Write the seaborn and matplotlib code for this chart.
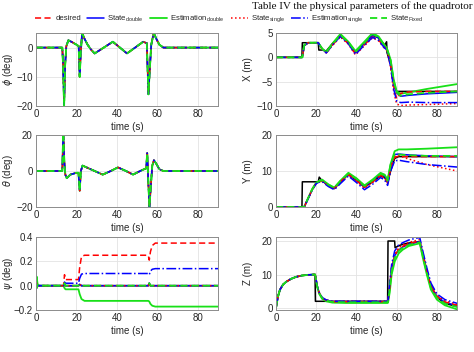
import matplotlib
matplotlib.use("Agg")
import matplotlib.pyplot as plt
import seaborn as sns
from matplotlib.lines import Line2D

# ---------------- data ----------------
T_PHI = [0, 13, 13.4, 13.9, 14.4, 15, 16, 17.5, 20, 21.1, 21.6, 22.1, 22.8, 24, 25.5, 27, 29,
         33.5, 38, 41.5, 45, 49, 53, 54.8, 55.6, 56.3, 57, 58.2, 59.5, 61, 63, 90]
PHI = [0, 0, -6, -20, -6, 0.5, 2.5, 2, 1, 0.5, -10, -2, 5, 3, 1, -0.5, -2,
       0, 2, 0, -2, 0, 2, 1.5, -16, -7, 1, 5, 3, 1, 0, 0]

T_THETA = [0, 13, 13.5, 14, 14.5, 15.2, 17, 20, 21, 21.6, 22.2, 23, 26, 29, 33, 37, 40.5,
           44.5, 48, 51.5, 54.5, 55, 55.5, 56.1, 56.8, 57.5, 58.3, 59.5, 61, 63, 90]
THETA = [0, 0, 22, 5, -2, -4, -2, -1, -1, -11, 0, 3, 1.5, 0, -2, 0, 2,
         0, -2, 0, 1.5, 10, -5, -20, -8, 3, 6, 4, 1, 0, 0]

T_PSI = [0, 0.3, 0.8, 1.5, 13.6, 14.1, 14.6, 15.2, 21.0, 21.6, 22.5, 24, 55.5, 56.0, 56.6, 57.5, 59, 90]
PSI_DESIRED = [0, 0.02, 0, 0, 0, 0.09, 0.05, 0.05, 0.05, 0.15, 0.24, 0.25, 0.25, 0.21, 0.28, 0.33, 0.35, 0.35]
PSI_EST_SINGLE = [0, 0.01, 0, 0, 0, 0.03, 0.02, 0.02, 0.02, 0.06, 0.095, 0.1, 0.1, 0.09, 0.12, 0.135, 0.14, 0.14]
PSI_EST_DOUBLE = [0, 0.075, 0.01, 0, 0, -0.02, -0.03, -0.03, -0.03, -0.07, -0.11, -0.125, -0.125, -0.13,
                  -0.15, -0.165, -0.172, -0.172]
PSI_STATE = [0, -0.02, 0.01, 0, 0, 0.02, 0, 0, 0, 0.01, 0, 0, 0, 0.02, 0, 0, 0, 0]

T_X = [0, 12.9, 13.1, 14, 16, 18, 21, 21.3, 23, 25, 28, 32, 36, 39.5, 43, 48, 51, 54, 55, 55.2,
       57, 58.5, 60, 62, 66, 75, 90]
X_REF = [0, 0, 3, 3, 3, 3, 3, 1.5, 1.5, 1.3, 2.8, 4.5, 3.0, 1.0, 2.5, 4.5, 4.0, 2.5, 3.2, 1.0,
         -1.5, -5.5, -7.0, -7.0, -7.0, -7.0, -7.0]
X_EST_DOUBLE = [0, 0, 0, 2.5, 3, 3, 3, 2.8, 1.8, 1.1, 2.8, 4.8, 3.2, 1.3, 2.8, 5.0, 4.3, 2.5, 2.0, 1.8,
                -0.5, -4.5, -7.0, -7.5, -7.2, -6.5, -5.5]
X_STATE_DOUBLE = [0, 0, 0, 2.4, 3, 3, 3, 2.8, 1.7, 1.0, 2.6, 4.5, 3.0, 1.0, 2.5, 4.6, 4.0, 2.3, 1.9, 1.6,
                  -0.8, -5.0, -7.3, -8.0, -7.8, -7.5, -7.2]
X_DESIRED = [0, 0, 0, 2.4, 3, 3, 3, 2.8, 1.6, 0.9, 2.5, 4.3, 2.8, 0.7, 2.2, 4.2, 3.6, 2.0, 1.7, 1.5,
             -1.5, -6.0, -8.5, -7.4, -7.1, -7.0, -7.0]
X_STATE_SINGLE = [0, 0, 0, 2.4, 3, 3, 3, 2.8, 1.6, 0.9, 2.4, 4.2, 2.7, 0.5, 2.0, 4.0, 3.4, 1.8, 1.5, 1.3,
                  -2.0, -7.0, -9.6, -9.9, -9.8, -9.7, -9.5]
X_EST_SINGLE = [0, 0, 0, 2.4, 3, 3, 3, 2.8, 1.6, 0.9, 2.5, 4.3, 2.8, 0.6, 2.1, 4.1, 3.5, 1.9, 1.6, 1.4,
                -1.8, -6.5, -9.0, -9.3, -9.2, -9.3, -9.3]
X_STATE_FIXED = [0, 0, 0, 2.5, 3, 3, 3, 2.8, 1.7, 1.0, 2.7, 4.6, 3.1, 1.1, 2.6, 4.8, 4.1, 2.4, 2.0, 1.7,
                 -0.7, -4.8, -7.2, -7.9, -7.6, -7.3, -7.0]

T_Y = [0, 12.9, 13.1, 14, 16, 18, 20, 21, 21.5, 23, 26, 29, 32, 36, 40, 44, 48, 52, 54, 55.5,
       57, 59, 61, 65, 75, 90]
Y_REF = [0, 0, 7, 7, 7, 7, 7, 7, 8.3, 7.2, 6.0, 5.1, 7.0, 9.0, 7.4, 5.5, 7.0, 8.7, 8.2, 6.8,
         10.0, 13.5, 14.0, 14.0, 14.0, 14.0]
Y_EST_DOUBLE = [0, 0, 0, 0, 2.5, 5.0, 6.8, 7.0, 7.3, 7.6, 6.3, 5.4, 7.3, 9.5, 8.0, 6.0, 7.6, 9.5, 9.0, 7.6,
                12.0, 15.5, 16.0, 16.0, 16.2, 16.6]
Y_STATE_DOUBLE = [0, 0, 0, 0, 2.4, 4.8, 6.6, 6.9, 7.1, 7.3, 6.1, 5.2, 7.1, 9.2, 7.7, 5.7, 7.3, 9.1, 8.6, 7.1,
                  11.5, 14.6, 14.7, 14.5, 14.2, 14.0]
Y_DESIRED = [0, 0, 0, 0, 2.4, 4.8, 6.6, 6.9, 7.0, 7.2, 6.0, 5.1, 7.0, 9.0, 7.4, 5.5, 7.0, 8.8, 8.2, 6.8,
             10.5, 13.8, 14.1, 14.0, 14.0, 14.0]
Y_STATE_SINGLE = [0, 0, 0, 0, 2.4, 4.8, 6.6, 6.9, 7.0, 7.1, 5.9, 5.0, 6.8, 8.8, 7.2, 5.2, 6.8, 8.5, 8.0, 6.5,
                  11.0, 14.0, 14.3, 13.5, 11.8, 10.0]
Y_EST_SINGLE = [0, 0, 0, 0, 2.3, 4.7, 6.5, 6.8, 6.9, 7.0, 5.7, 4.8, 6.5, 8.6, 6.8, 4.8, 6.3, 8.2, 7.5, 6.0,
                10.0, 12.8, 13.0, 12.6, 11.8, 11.1]
Y_STATE_FIXED = [0, 0, 0, 0, 2.5, 4.9, 6.7, 7.0, 7.2, 7.4, 6.2, 5.3, 7.2, 9.3, 7.8, 5.8, 7.4, 9.2, 8.8, 7.3,
                 11.8, 14.8, 14.6, 14.4, 14.2, 14.2]

T_Z = [0, 1, 2, 3.5, 5, 7.5, 10, 13, 16, 19.4, 19.6, 20.5, 21.5, 23, 25, 28, 35, 45, 55.5, 55.7,
       56.5, 57.5, 59, 59.2, 61, 63, 66, 70, 71.5, 73, 75, 77, 80, 84, 90]
Z_REF = [0, 3.5, 5.5, 7, 7.8, 8.7, 9.3, 9.7, 9.9, 10, 2, 2, 2, 2, 2, 2, 2, 2, 2, 20,
         20, 20, 20, 18, 18.6, 19, 19.4, 19.7, 19.8, 16, 11, 6.5, 3.2, 1.4, 0.4]
Z_STATE_DOUBLE = [0, 3.5, 5.5, 7, 7.8, 8.7, 9.3, 9.7, 9.9, 10, 9.6, 6.5, 4.5, 3.0, 2.3, 1.9, 1.9, 1.9, 1.9, 2.0,
                  6, 12, 15.5, 15.8, 17.3, 18.2, 19, 19.6, 19.8, 16, 11, 6.5, 3.4, 1.7, 0.7]
Z_EST_SINGLE = [0, 3.5, 5.5, 7, 7.8, 8.7, 9.3, 9.7, 9.9, 10, 9.6, 6.6, 4.6, 3.1, 2.4, 2.0, 2.0, 2.0, 2.0, 2.1,
                7, 13, 17, 17.2, 18.8, 19.5, 20.3, 20.9, 21, 17, 12, 7.5, 4.2, 2.5, 1.4]
Z_EST_DOUBLE = [0, 3.5, 5.5, 7, 7.8, 8.7, 9.3, 9.7, 9.9, 10, 9.5, 6.3, 4.2, 2.7, 2.0, 1.6, 1.5, 1.5, 1.5, 1.6,
                4.5, 10, 13.8, 14.1, 16.3, 17.4, 18.5, 19.1, 19.3, 15, 10, 5.5, 2.5, 0.8, -0.4]
Z_DESIRED = [0, 3.5, 5.5, 7, 7.8, 8.7, 9.3, 9.7, 9.9, 10, 9.6, 6.5, 4.5, 3.0, 2.3, 1.9, 1.9, 1.9, 1.9, 2.0,
             6, 12, 15.5, 15.8, 17.5, 18.4, 19.2, 19.8, 20, 16.2, 11.2, 6.7, 3.5, 1.8, 0.8]
Z_STATE_SINGLE = [0, 3.5, 5.5, 7, 7.8, 8.7, 9.3, 9.7, 9.9, 10, 9.6, 6.6, 4.6, 3.1, 2.4, 2.0, 2.0, 2.0, 2.0, 2.1,
                  6.5, 12.5, 16.2, 16.5, 18, 18.8, 19.6, 20.2, 20.4, 16.5, 11.5, 7, 3.8, 2.1, 1.1]
Z_STATE_FIXED = [0, 3.5, 5.5, 7, 7.8, 8.7, 9.3, 9.7, 9.9, 10, 9.5, 6.4, 4.4, 2.9, 2.2, 1.8, 1.7, 1.7, 1.7, 1.8,
                 5.5, 11, 14.8, 15.1, 17, 18, 18.8, 19.4, 19.6, 15.5, 10.5, 6, 3, 1.3, 0.3]

LEGEND_LABELS = ["desired", r"State$_{\mathregular{double}}$", r"Estimation$_{\mathregular{double}}$",
                 r"State$_{\mathregular{single}}$", r"Estimation$_{\mathregular{single}}$",
                 r"State$_{\mathregular{Fixed}}$"]
TIME_TICKS = [0, 20, 40, 60, 80]

# ---------------- styling ----------------
sns.set_theme(style="whitegrid")
plt.rcParams["font.family"] = ["Liberation Sans", "DejaVu Sans"]

GREEN = "#18e018"
STYLE = {
    "ref": dict(color="black", linestyle="-", linewidth=1.1),
    "state_double": dict(color="#0000ff", linestyle="-", linewidth=1.1),
    "est_double": dict(color=GREEN, linestyle="-", linewidth=1.3),
    "desired": dict(color="#ff0000", linestyle=(0, (4, 2.2)), linewidth=1.1),
    "state_single": dict(color="#ff0000", linestyle=":", linewidth=1.1),
    "est_single": dict(color="#0000ff", linestyle="-.", linewidth=1.1),
    "state_fixed": dict(color=GREEN, linestyle=(0, (4, 2.2)), linewidth=1.3),
}
ORDER = ["ref", "state_double", "est_double", "desired", "state_single", "est_single", "state_fixed"]

W, H = 474, 352
fig = plt.figure(figsize=(W / 100, H / 100), dpi=100)
fig.patch.set_facecolor("white")


def rect(x0, x1, y0, y1):
    return [x0 / W, 1 - y1 / H, (x1 - x0) / W, (y1 - y0) / H]


LX0, LX1 = 36, 218
RX0, RX1 = 276, 457
ROWS = [(33, 106), (135, 207), (237, 310)]

ax_phi = fig.add_axes(rect(LX0, LX1, *ROWS[0]))
ax_theta = fig.add_axes(rect(LX0, LX1, *ROWS[1]))
ax_psi = fig.add_axes(rect(LX0, LX1, *ROWS[2]))
ax_x = fig.add_axes(rect(RX0, RX1, *ROWS[0]))
ax_y = fig.add_axes(rect(RX0, RX1, *ROWS[1]))
ax_z = fig.add_axes(rect(RX0, RX1, *ROWS[2]))


def draw(ax, t, series):
    for key in ORDER:
        if key in series:
            sns.lineplot(x=t, y=series[key], ax=ax, estimator=None, sort=False,
                         legend=False, **STYLE[key])


draw(ax_phi, T_PHI, {k: PHI for k in ORDER if k != "ref"})
draw(ax_theta, T_THETA, {k: THETA for k in ORDER if k != "ref"})
draw(ax_psi, T_PSI, {"ref": PSI_STATE, "state_double": PSI_STATE, "est_double": PSI_EST_DOUBLE,
                     "desired": PSI_DESIRED, "state_single": PSI_STATE, "est_single": PSI_EST_SINGLE,
                     "state_fixed": PSI_STATE})
draw(ax_x, T_X, {"ref": X_REF, "state_double": X_STATE_DOUBLE, "est_double": X_EST_DOUBLE,
                 "desired": X_DESIRED, "state_single": X_STATE_SINGLE, "est_single": X_EST_SINGLE,
                 "state_fixed": X_STATE_FIXED})
draw(ax_y, T_Y, {"ref": Y_REF, "state_double": Y_STATE_DOUBLE, "est_double": Y_EST_DOUBLE,
                 "desired": Y_DESIRED, "state_single": Y_STATE_SINGLE, "est_single": Y_EST_SINGLE,
                 "state_fixed": Y_STATE_FIXED})
draw(ax_z, T_Z, {"ref": Z_REF, "state_double": Z_STATE_DOUBLE, "est_double": Z_EST_DOUBLE,
                 "desired": Z_DESIRED, "state_single": Z_STATE_SINGLE, "est_single": Z_EST_SINGLE,
                 "state_fixed": Z_STATE_FIXED})

specs = [
    (ax_phi, r"$\phi$ (deg)", (-20, 5), [-20, -10, 0], LX0),
    (ax_theta, r"$\theta$ (deg)", (-20, 20), [-20, 0, 20], LX0),
    (ax_psi, r"$\psi$ (deg)", (-0.2, 0.4), [-0.2, 0, 0.2, 0.4], LX0),
    (ax_x, "X (m)", (-10, 5), [-10, -5, 0, 5], RX0),
    (ax_y, "Y (m)", (0, 20), [0, 10, 20], RX0),
    (ax_z, "Z (m)", (-0.6, 21.2), [0, 10, 20], RX0),
]
TXT = "#262626"
for ax, ylab, ylim, yticks, x0 in specs:
    ax.set_facecolor("white")
    ax.set_xlim(0, 90)
    ax.set_ylim(*ylim)
    ax.set_xticks(TIME_TICKS)
    ax.set_yticks(yticks)
    ax.set_xlabel("time (s)", fontsize=7, color=TXT, labelpad=2)
    ax.set_ylabel(ylab, fontsize=7, color=TXT)
    label_px = 15 if x0 == LX0 else 253
    ax.yaxis.set_label_coords((label_px - x0) / (LX1 - LX0), 0.5)
    ax.grid(True, color="#e3e3e3", linewidth=0.6)
    ax.set_axisbelow(True)
    for s in ax.spines.values():
        s.set_visible(True)
        s.set_color("#8c8c8c")
        s.set_linewidth(0.7)
    ax.tick_params(direction="in", length=2, width=0.6, color="#8c8c8c",
                   labelsize=7, labelcolor=TXT, pad=2.5)

handles = [Line2D([], [], **STYLE[k]) for k in
           ["desired", "state_double", "est_double", "state_single", "est_single", "state_fixed"]]
fig.legend(handles, LEGEND_LABELS, loc="center", bbox_to_anchor=(0.483, 1 - 19 / H), ncol=6,
           frameon=False, fontsize=5.6, handlelength=2.2, handletextpad=0.4, columnspacing=0.8,
           labelcolor=TXT)

fig.text(472 / W, 1 - 9 / H, "Table IV the physical parameters of the quadrotor",
         family="Liberation Serif", fontsize=8, va="baseline", ha="right", color="#111111")

fig.savefig("out.png", dpi=100, facecolor="white")
